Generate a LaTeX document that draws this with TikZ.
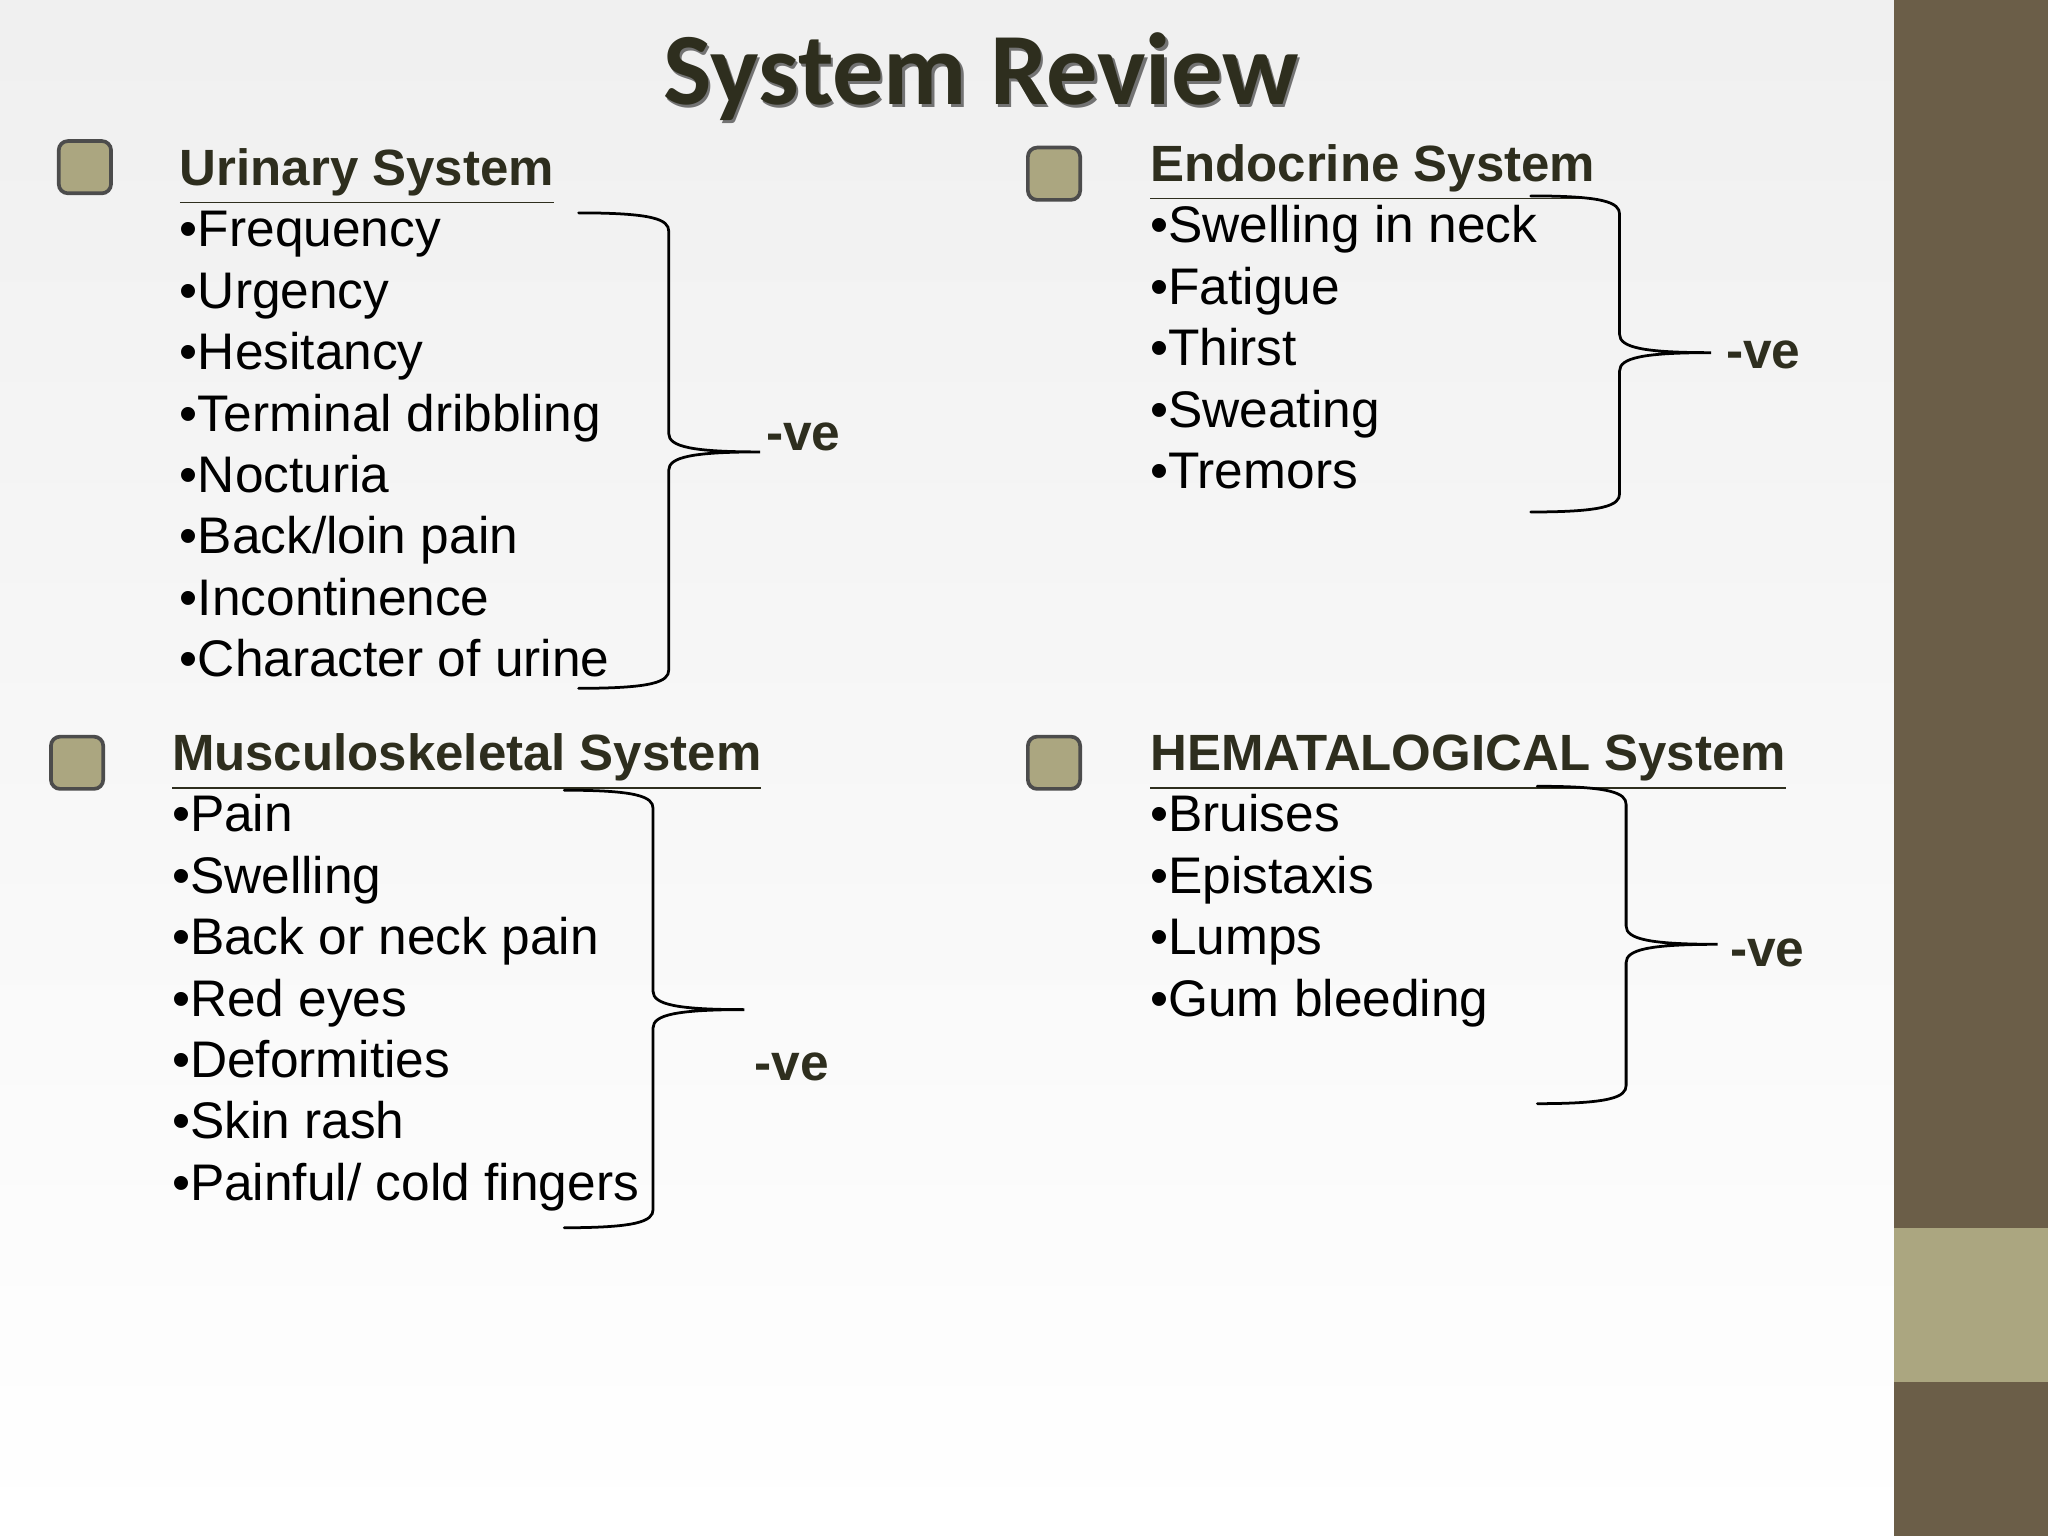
\documentclass[tikz,border=0pt]{standalone}
\usepackage{fontspec}
\setmainfont{Liberation Sans}
\newfontfamily\titlefont{Carlito}
\usetikzlibrary{positioning}
\definecolor{olive}{HTML}{ABA680}
\definecolor{barbrown}{HTML}{6B5E48}
\definecolor{headdark}{HTML}{2E2E1E}
\tikzset{
    item/.style={anchor=base west,inner sep=0pt,font=\fontsize{11.2}{12}\selectfont},
    head/.style={anchor=base west,inner sep=0pt,font=\fontsize{11.1}{12}\selectfont\bfseries,text=headdark},
    ve/.style={anchor=base,inner sep=0pt,font=\fontsize{11.2}{12}\selectfont\bfseries,text=headdark},
    marker/.style={draw=black!70,fill=olive,rounded corners=2pt,minimum size=0.4cm,inner sep=0pt,thick},
    brace/.style={semithick,line cap=round}
}
\newcommand{\vebrace}[6]{% xl, xm, xtip, ytop, ymid, ybot
    \draw[brace] (#1,#4) .. controls (#2-12,#4) and (#2,#4+5) .. (#2,#4+14) -- (#2,#5-14)
        .. controls (#2,#5-4) and (#2+18,#5) .. (#3,#5)
        .. controls (#2+18,#5) and (#2,#5+4) .. (#2,#5+14) -- (#2,#6-14)
        .. controls (#2,#6-5) and (#2-12,#6) .. (#1,#6);}
\begin{document}
\begin{tikzpicture}[x=0.01cm,y=-0.01cm]
    \useasboundingbox (0,0) rectangle (1568,1176);
    \shade[top color=black!6,bottom color=white] (0,0) rectangle (1450,1176);
    \fill[barbrown] (1450,0) rectangle (1568,1176);
    \fill[olive] (1450,940) rectangle (1568,1058);

    % title
    \node[font=\titlefont\fontsize{22.3}{24}\selectfont\bfseries,text=black!55,inner sep=0pt] (title shadow) at (753,61) {System Review};
    \node[font=\titlefont\fontsize{22.3}{24}\selectfont\bfseries,text=headdark,inner sep=0pt] (title) at (751,59) {System Review};

    % markers
    \node[marker] (m urin) at (65,128) {};
    \node[marker] (m endo) at (807,133) {};
    \node[marker] (m musc) at (59,584) {};
    \node[marker] (m hema) at (807,584) {};

    % urinary
    \node[head] (h urin) at (137,142) {\underline{Urinary System}};
    \foreach \t [count=\i] in {Frequency,Urgency,Hesitancy,Terminal dribbling,Nocturia,Back/loin pain,Incontinence,Character of urine}
        \node[item] (urin \i) at (137,142+47*\i) {•\t};
    \vebrace{443}{512}{582}{163}{346}{527}
    \node[ve] (ve urin) at (615,345) {-ve};

    % endocrine
    \node[head] (h endo) at (880,139) {\underline{Endocrine System}};
    \foreach \t [count=\i] in {Swelling in neck,Fatigue,Thirst,Sweating,Tremors}
        \node[item] (endo \i) at (880,139+47*\i) {•\t};
    \vebrace{1172}{1240}{1310}{150}{270}{392}
    \node[ve] (ve endo) at (1350,282) {-ve};

    % musculoskeletal
    \node[head] (h musc) at (131,590) {\underline{Musculoskeletal System}};
    \foreach \t [count=\i] in {Pain,Swelling,Back or neck pain,Red eyes,Deformities,Skin rash,Painful/ cold fingers}
        \node[item] (musc \i) at (131,590+47*\i) {•\t};
    \vebrace{432}{500}{570}{605}{773}{940}
    \node[ve] (ve musc) at (606,827) {-ve};

    % hematalogical
    \node[head] (h hema) at (880,590) {\underline{HEMATALOGICAL System}};
    \foreach \t [count=\i] in {Bruises,Epistaxis,Lumps,Gum bleeding}
        \node[item] (hema \i) at (880,590+47*\i) {•\t};
    \vebrace{1177}{1245}{1315}{602}{723}{845}
    \node[ve] (ve hema) at (1353,740) {-ve};
\end{tikzpicture}
\end{document}
